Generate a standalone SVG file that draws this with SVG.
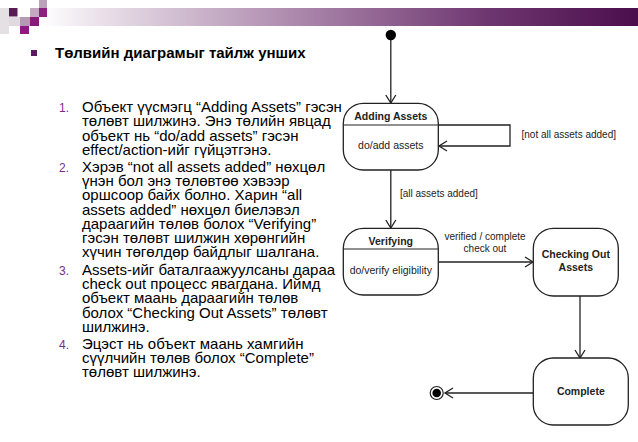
<svg xmlns="http://www.w3.org/2000/svg" width="638" height="442" viewBox="0 0 638 442">
<style>
.body{font-family:"Liberation Sans",Arial,sans-serif;font-size:15px;fill:#000}
.num{font-family:"Liberation Sans",Arial,sans-serif;font-size:12px;fill:#7a2e8a}
.title{font-family:"Liberation Sans",Arial,sans-serif;font-size:15px;font-weight:bold;fill:#000}
.st{fill:#fff;stroke:#222;stroke-width:1.3}
.div{stroke:#222;stroke-width:1.2}
.sn{font-family:"Liberation Sans",Arial,sans-serif;font-size:10.5px;font-weight:bold;fill:#222;text-anchor:middle}
.sa{font-family:"Liberation Sans",Arial,sans-serif;font-size:10.5px;fill:#222;text-anchor:middle}
.lb{font-family:"Liberation Sans",Arial,sans-serif;font-size:10px;fill:#222}
.cn{fill:none;stroke:#222;stroke-width:1.3;marker-end:url(#arr)}
</style>
<defs>
<linearGradient id="bar" x1="0" y1="0" x2="1" y2="0">
<stop offset="0" stop-color="#ffffff"/>
<stop offset="0.12" stop-color="#e6dbe6"/>
<stop offset="0.45" stop-color="#a883a8"/>
<stop offset="0.75" stop-color="#6e3670"/>
<stop offset="1" stop-color="#4a0e4c"/>
</linearGradient>
<marker id="arr" viewBox="-10 -6 12 12" refX="0" refY="0" markerWidth="12" markerHeight="12" markerUnits="userSpaceOnUse" orient="auto">
<path d="M-8,-5 L0,0 L-8,5" fill="none" stroke="#222" stroke-width="1.3"/>
</marker>
</defs>
<rect width="638" height="442" fill="#fff"/>
<g id="header">
<rect x="40" y="8" width="598" height="18" fill="url(#bar)"/>
<rect x="0" y="8" width="9" height="26" fill="#e4e0e4"/>
<rect x="9" y="8" width="8.5" height="8.5" fill="#5a1a52"/>
<rect x="39" y="0" width="8" height="8" fill="#b9a2ba"/>
<rect x="30" y="8" width="9" height="9" fill="#c2aac2"/>
<rect x="39" y="8" width="8" height="9" fill="#8f1f80"/>
<rect x="9" y="17" width="11" height="9" fill="#e0dae0"/>
<rect x="20" y="17" width="10" height="9" fill="#b49bb4"/>
<rect x="30" y="17" width="9" height="9" fill="#8a1a7a"/>
<rect x="20" y="26" width="9" height="8" fill="#901a80"/>
</g>
<g id="heading">
<rect x="31" y="50" width="6" height="6" fill="#5a1a60"/>
<text class="title" x="55" y="58">Төлвийн диаграмыг тайлж унших</text>
</g>
<g id="list">
<text class="num" x="59" y="112">1.</text>
<text class="body" x="82" y="112">Объект үүсмэгц “Adding Assets” гэсэн</text>
<text class="body" x="82" y="126.4">төлөвт шилжинэ. Энэ төлийн явцад</text>
<text class="body" x="82" y="140.8">объект нь “do/add assets” гэсэн</text>
<text class="body" x="82" y="155.2">effect/action-ийг гүйцэтгэнэ.</text>
<text class="num" x="59" y="172">2.</text>
<text class="body" x="82" y="172">Хэрэв “not all assets added” нөхцөл</text>
<text class="body" x="82" y="186.2">үнэн бол энэ төлөвтөө хэвээр</text>
<text class="body" x="82" y="200.4">оршсоор байх болно. Харин “all</text>
<text class="body" x="82" y="214.6">assets added” нөхцөл биелэвэл</text>
<text class="body" x="82" y="228.8">дараагийн төлөв болох “Verifying”</text>
<text class="body" x="82" y="243">гэсэн төлөвт шилжин хөрөнгийн</text>
<text class="body" x="82" y="257.2">хүчин төгөлдөр байдлыг шалгана.</text>
<text class="num" x="59" y="274.5">3.</text>
<text class="body" x="82" y="274.5">Assets-ийг баталгаажуулсаны дараа</text>
<text class="body" x="82" y="288.9">check out процесс явагдана.  Иймд</text>
<text class="body" x="82" y="303.3">объект маань дараагийн төлөв</text>
<text class="body" x="82" y="317.7">болох “Checking Out Assets” төлөвт</text>
<text class="body" x="82" y="332.1">шилжинэ.</text>
<text class="num" x="59" y="348.5">4.</text>
<text class="body" x="82" y="348.5">Эцэст нь объект маань хамгийн</text>
<text class="body" x="82" y="362.9">сүүлчийн төлөв болох “Complete”</text>
<text class="body" x="82" y="377.3">төлөвт шилжинэ.</text>
</g>
<g id="connectors">
<path class="cn" d="M390.8,38 V103"/>
<path class="cn" d="M438.3,125 H510 V146 H439"/>
<path class="cn" d="M390.8,170 V228"/>
<path class="cn" d="M438.3,262 H533"/>
<path class="cn" d="M580,296 V358"/>
<path class="cn" d="M533,393 H445"/>
<text class="lb" x="521.5" y="138">[not all assets added]</text>
<text class="lb" x="400" y="197">[all assets added]</text>
<text class="lb" x="485" y="240" text-anchor="middle">verified / complete</text>
<text class="lb" x="485" y="252" text-anchor="middle">check out</text>
</g>
<g id="initial">
<circle cx="390.8" cy="35" r="5.2" fill="#000"/>
</g>
<g id="adding-assets">
<rect class="st" x="343.3" y="103.3" width="95" height="66.7" rx="20" ry="20"/>
<line class="div" x1="343.3" y1="125" x2="438.3" y2="125"/>
<text class="sn" x="390.8" y="120">Adding Assets</text>
<text class="sa" x="390.8" y="149">do/add assets</text>
</g>
<g id="verifying">
<rect class="st" x="343.3" y="228.3" width="95" height="66.7" rx="20" ry="20"/>
<line class="div" x1="343.3" y1="249" x2="438.3" y2="249"/>
<text class="sn" x="390.8" y="245">Verifying</text>
<text class="sa" x="390.8" y="274">do/verify eligibility</text>
</g>
<g id="checking-out">
<rect class="st" x="533.3" y="228.3" width="85" height="67.7" rx="20" ry="20"/>
<text class="sn" x="575.8" y="258">Checking Out</text>
<text class="sn" x="575.8" y="270.5">Assets</text>
</g>
<g id="complete">
<rect class="st" x="533.3" y="358" width="95" height="67" rx="20" ry="20"/>
<text class="sn" x="580.8" y="395">Complete</text>
</g>
<g id="final">
<circle cx="436.7" cy="393" r="6.5" fill="#fff" stroke="#222" stroke-width="1.2"/>
<circle cx="436.7" cy="393" r="4.3" fill="#000"/>
</g>
</svg>
